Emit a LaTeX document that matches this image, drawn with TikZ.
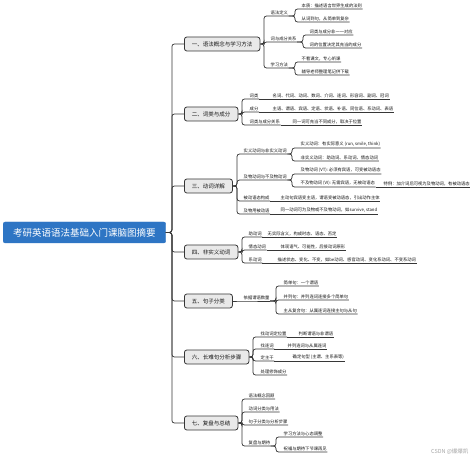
\documentclass[tikz,border=0pt]{standalone}
\usepackage{fontspec}
\newfontfamily\cjk{Noto Sans CJK SC}
\definecolor{rootblue}{RGB}{46,117,196}
\definecolor{linec}{RGB}{55,55,55}
\definecolor{boxfill}{RGB}{233,233,233}
\definecolor{txt}{RGB}{20,20,20}
\begin{document}
\begin{tikzpicture}[x=1pt,y=-1pt,
  conn/.style={draw=linec,line width=0.75pt,rounded corners=2.5pt},
  rootbox/.style={fill=rootblue,draw=rootblue,rounded corners=2pt,text=white,font=\cjk\fontsize{9.5}{10}\selectfont,minimum height=21pt,inner xsep=10pt,anchor=west},
  lonebox/.style={fill=boxfill,draw=linec,line width=0.8pt,rounded corners=2.5pt,text=txt,font=\cjk\fontsize{5.5}{6}\selectfont,minimum height=14pt,inner xsep=7.5pt,anchor=west},
  lbl/.style={text=txt,font=\cjk\fontsize{4.3}{5}\selectfont,inner xsep=0.5pt,inner ysep=1.2pt,anchor=south west}
]
\useasboundingbox (0,0) rectangle (474,462);
\fill[white] (0,0) rectangle (474,462);

\node[rootbox] (root) at (3,232.5) {考研英语语法基础入门课脑图摘要};

% level 1
\node[lonebox] (A) at (184,44) {一、语法概念与学习方法};
\node[lonebox] (B) at (184,114) {二、词类与成分};
\node[lonebox] (C) at (184,186) {三、动词详解};
\node[lonebox] (D) at (184,252) {四、非实义动词};
\node[lonebox] (E) at (184,301) {五、句子分类};
\node[lonebox] (F) at (184,357) {六、长难句分析步骤};
\node[lonebox] (G) at (184,423) {七、复盘与总结};

\foreach \n in {A,B,C,D,E,F,G}{
  \draw[conn] (root.east) -- ++(6,0) |- (\n.west);
}

% ---------- branch 1
\node[lbl] (a1) at (270,16) {语法定义};
\node[lbl] (a2) at (270,42) {词与成分关系};
\node[lbl] (a3) at (270,68) {学习方法};
\node[lbl] (a11) at (301,9) {本质：描述语言世界生成的法则};
\node[lbl] (a12) at (301,22) {从词到句，从简单到复杂};
\node[lbl] (a21) at (309,35) {词类与成分非一一对应};
\node[lbl] (a22) at (309,48) {词的位置决定其充当的成分};
\node[lbl] (a31) at (301,62) {不看课文，专心听课};
\node[lbl] (a32) at (301,75) {辅导老师整理笔记供下载};
\coordinate (Ab) at (264,44);
\coordinate (a1b) at (295,16);
\coordinate (a2b) at (303,42);
\coordinate (a3b) at (295,68);
\foreach \c in {a1,a2,a3}{\draw[conn] (A.east) -- (Ab) |- (\c.south west) -- (\c.south east);}
\foreach \c in {a11,a12}{\draw[conn] (a1.south east) -- (a1b) |- (\c.south west) -- (\c.south east);}
\foreach \c in {a21,a22}{\draw[conn] (a2.south east) -- (a2b) |- (\c.south west) -- (\c.south east);}
\foreach \c in {a31,a32}{\draw[conn] (a3.south east) -- (a3b) |- (\c.south west) -- (\c.south east);}

% ---------- branch 2
\node[lbl] (b1) at (249,99) {词类};
\node[lbl] (b2) at (249,112) {成分};
\node[lbl] (b3) at (249,125) {词类与成分关系};
\node[lbl] (b11) at (272,99) {名词、代词、动词、数词、介词、连词、形容词、副词、冠词};
\node[lbl] (b21) at (272,112) {主语、谓语、宾语、定语、状语、补语、同位语、系动词、表语};
\node[lbl] (b31) at (292,125) {同一词可充当不同成分，取决于位置};
\coordinate (Bb) at (242,114);
\foreach \c in {b1,b2,b3}{\draw[conn] (B.east) -- (Bb) |- (\c.south west) -- (\c.south east);}
\draw[conn] (b1.south east) -- (b11.south east);
\draw[conn] (b2.south east) -- (b21.south east);
\draw[conn] (b3.south east) -- (b31.south east);

% ---------- branch 3
\node[lbl] (c1) at (243,154) {实义动词与非实义动词};
\node[lbl] (c2) at (243,180) {及物动词与不及物动词};
\node[lbl] (c3) at (243,201) {被动语态构成};
\node[lbl] (c4) at (243,214) {及物用被动语};
\node[lbl] (c11) at (300,148) {实义动词：有实际意义 (run, smile, think)};
\node[lbl] (c12) at (300,161) {非实义动词：助动词、系动词、情态动词};
\node[lbl] (c21) at (300,174) {及物动词 (VT): 必须有宾语，可变被动语态};
\node[lbl] (c22) at (300,187) {不及物动词 (VI): 无需宾语，无被动语态};
\node[lbl] (c221) at (383,187) {特例：加介词后可视为及物动词，有被动语态};
\node[lbl] (c31) at (280,201) {主动句宾语变主语，谓语变被动语态，引出动作主体};
\node[lbl] (c41) at (280,214) {同一动词可为及物或不及物动词，如survive, stand};
\coordinate (Cb) at (237,186);
\coordinate (c1b) at (292,154);
\coordinate (c2b) at (292,180);
\foreach \c in {c1,c2,c3,c4}{\draw[conn] (C.east) -- (Cb) |- (\c.south west) -- (\c.south east);}
\foreach \c in {c11,c12}{\draw[conn] (c1.south east) -- (c1b) |- (\c.south west) -- (\c.south east);}
\foreach \c in {c21,c22}{\draw[conn] (c2.south east) -- (c2b) |- (\c.south west) -- (\c.south east);}
\draw[conn] (c22.south east) -- (c221.south east);
\draw[conn] (c3.south east) -- (c31.south east);
\draw[conn] (c4.south east) -- (c41.south east);

% ---------- branch 4
\node[lbl] (d1) at (248,237) {助动词};
\node[lbl] (d2) at (248,250) {情态动词};
\node[lbl] (d3) at (248,263) {系动词};
\node[lbl] (d11) at (267,237) {无实际含义，构成时态、语态、否定};
\node[lbl] (d21) at (280,250) {体现语气、可能性，后接动词原形};
\node[lbl] (d31) at (277,263) {描述状态、变化、不变，如be动词、感官动词、变化系动词、不变系动词};
\coordinate (Db) at (242,252);
\foreach \c in {d1,d2,d3}{\draw[conn] (D.east) -- (Db) |- (\c.south west) -- (\c.south east);}
\draw[conn] (d1.south east) -- (d11.south east);
\draw[conn] (d2.south east) -- (d21.south east);
\draw[conn] (d3.south east) -- (d31.south east);

% ---------- branch 5
\node[lbl] (e1) at (243,301) {依据谓语数量};
\node[lbl] (e11) at (283,286) {简单句：一个谓语};
\node[lbl] (e12) at (283,300) {并列句：并列连词连接多个简单句};
\node[lbl] (e13) at (283,314) {主从复合句：从属连词连接主句与从句};
\coordinate (e1b) at (276,301);
\draw[conn] (E.east) -- (e1.south west) -- (e1.south east);
\foreach \c in {e11,e12,e13}{\draw[conn] (e1.south east) -- (e1b) |- (\c.south west) -- (\c.south east);}

% ---------- branch 6
\node[lbl] (f1) at (260,337) {找动词定位置};
\node[lbl] (f2) at (260,349) {找连词};
\node[lbl] (f3) at (260,361) {定主干};
\node[lbl] (f4) at (260,375) {处理修饰成分};
\node[lbl] (f11) at (298,337) {判断谓语与非谓语};
\node[lbl] (f21) at (287,349) {并列连词与从属连词};
\node[lbl] (f31) at (292,361) {确定句型 (主谓、主系表等)};
\coordinate (Fb) at (253,357);
\foreach \c in {f1,f2,f3,f4}{\draw[conn] (F.east) -- (Fb) |- (\c.south west) -- (\c.south east);}
\draw[conn] (f1.south east) -- (f11.south east);
\draw[conn] (f2.south east) -- (f21.south east);
\draw[conn] (f3.south east) -- (f31.south east);

% ---------- branch 7
\node[lbl] (g1) at (248,399) {语法概念回顾};
\node[lbl] (g2) at (248,412) {动词分类与用法};
\node[lbl] (g3) at (248,425) {句子分类与分析步骤};
\node[lbl] (g4) at (248,446) {复盘与期待};
\node[lbl] (g41) at (283,437) {学习方法与心态调整};
\node[lbl] (g42) at (283,452) {祝福与期待下节课再见};
\coordinate (Gb) at (242,423);
\coordinate (g4b) at (276,446);
\foreach \c in {g1,g2,g3,g4}{\draw[conn] (G.east) -- (Gb) |- (\c.south west) -- (\c.south east);}
\foreach \c in {g41,g42}{\draw[conn] (g4.south east) -- (g4b) |- (\c.south west) -- (\c.south east);}

% watermark
\node[text=black!35,font=\cjk\fontsize{5.5}{6}\selectfont,anchor=east] (wm) at (472,452) {CSDN @爆爆凯};
\end{tikzpicture}
\end{document}
